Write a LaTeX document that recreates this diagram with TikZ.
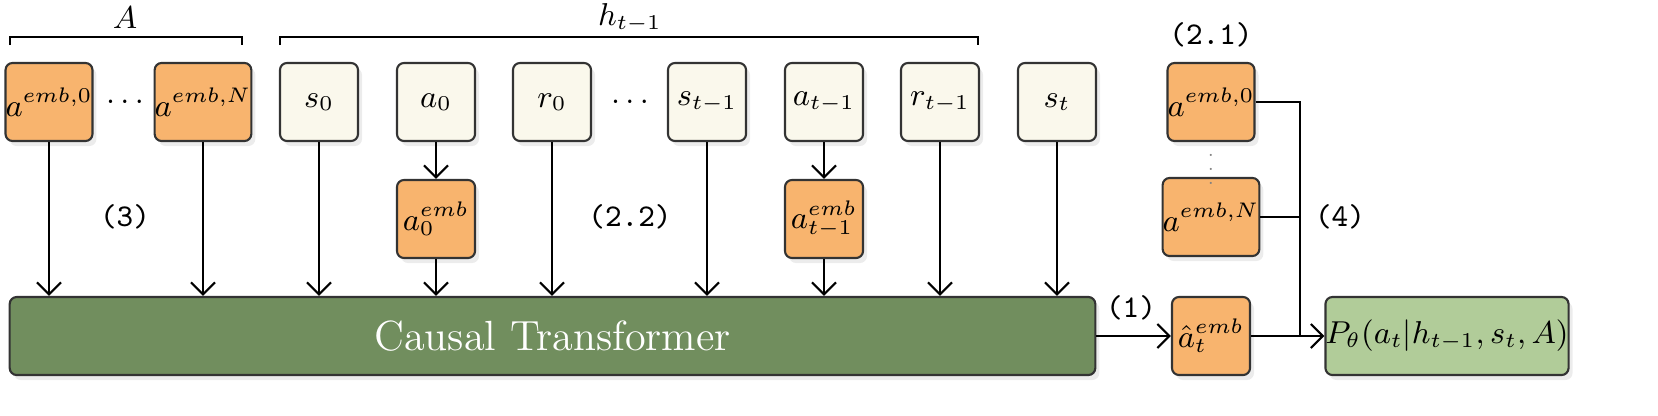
\documentclass[tikz,border=0pt]{standalone}
\usetikzlibrary{shadows,arrows.meta}
\definecolor{org}{HTML}{F8B46E}
\definecolor{crm}{HTML}{FAF8EC}
\definecolor{dg}{HTML}{718E5E}
\definecolor{lg}{HTML}{B1CC99}
\begin{document}
\begin{tikzpicture}[x=0.01cm,y=-0.01cm,
 box/.style={draw=black!80,line width=0.6pt,rounded corners=2pt,minimum width=0.78cm,minimum height=0.78cm,inner sep=0pt,drop shadow={shadow xshift=0.4mm,shadow yshift=-0.5mm,opacity=0.15}},
 ob/.style={box,fill=org},
 cb/.style={box,fill=crm},
 arr/.style={-{Straight Barb[length=1.2mm,width=2.4mm]},line width=0.6pt},
 ln/.style={line width=0.6pt},
 lab/.style={font=\ttfamily\small}]
\foreach \n/\x/\t/\s in {e0/49/{a^{emb,0}}/ob,eN/203/{a^{emb,N}}/ob,s0/319/{s_0}/cb,a0/436/{a_0}/cb,r0/552/{r_0}/cb,s1/707/{s_{t-1}}/cb,a1/824/{a_{t-1}}/cb,r1/940/{r_{t-1}}/cb,st/1057/{s_t}/cb}
  \node[\s,font=\small] (\n) at (\x,102) {$\t$};
\node[font=\small] (d1) at (125,102) {$\dots$};
\node[font=\small] (d2) at (630,102) {$\dots$};
\node[ob,font=\small] (m0) at (436,219) {$a_0^{emb}$};
\node[ob,font=\small] (m1) at (824,219) {$a_{t-1}^{emb}$};
\node[box,fill=dg,minimum width=10.85cm,text=white,font=\large] (ct) at (552.5,336) {Causal Transformer};
\node[ob,font=\small] (R0) at (1211,102) {$a^{emb,0}$};
\node[ob,font=\small] (RN) at (1211,217) {$a^{emb,N}$};
\node[ob,font=\small] (h) at (1211,336) {$\hat a_t^{emb}$};
\node[box,fill=lg,minimum width=1.85cm,font=\small] (P) at (1447,336) {$P_\theta(a_t|h_{t-1},s_t,A)$};
\node[text=black!50,font=\tiny] (vd) at (1211,159) {$\vdots$};
\foreach \n in {e0,eN,s0,r0,s1,r1,st} \draw[arr] (\n) -- (\n|-ct.north);
\draw[arr] (a0) -- (m0); \draw[arr] (m0) -- (m0|-ct.north);
\draw[arr] (a1) -- (m1); \draw[arr] (m1) -- (m1|-ct.north);
\draw[arr] (ct) -- (h);
\coordinate (j) at (1300,336);
\draw[ln] (R0.east) -| (j);
\draw[ln] (RN.east) -- (RN.east-|j);
\draw[arr] (h) -- (P);
\draw[ln] (10,45) -- (10,37) -- (242,37) -- (242,45);
\draw[ln] (280,45) -- (280,37) -- (978,37) -- (978,45);
\node[font=\small] (lA) at (125,18) {$A$};
\node[font=\small] (lh) at (630,18) {$h_{t-1}$};
\node[lab] (l21) at (1211,35) {(2.1)};
\node[lab] (l3) at (125,217) {(3)};
\node[lab] (l22) at (630,217) {(2.2)};
\node[lab] (l4) at (1340,217) {(4)};
\node[lab] (l1) at (1131,308) {(1)};
\pgfresetboundingbox
\path[use as bounding box] (0,0) rectangle (1658,415);
\end{tikzpicture}
\end{document}
